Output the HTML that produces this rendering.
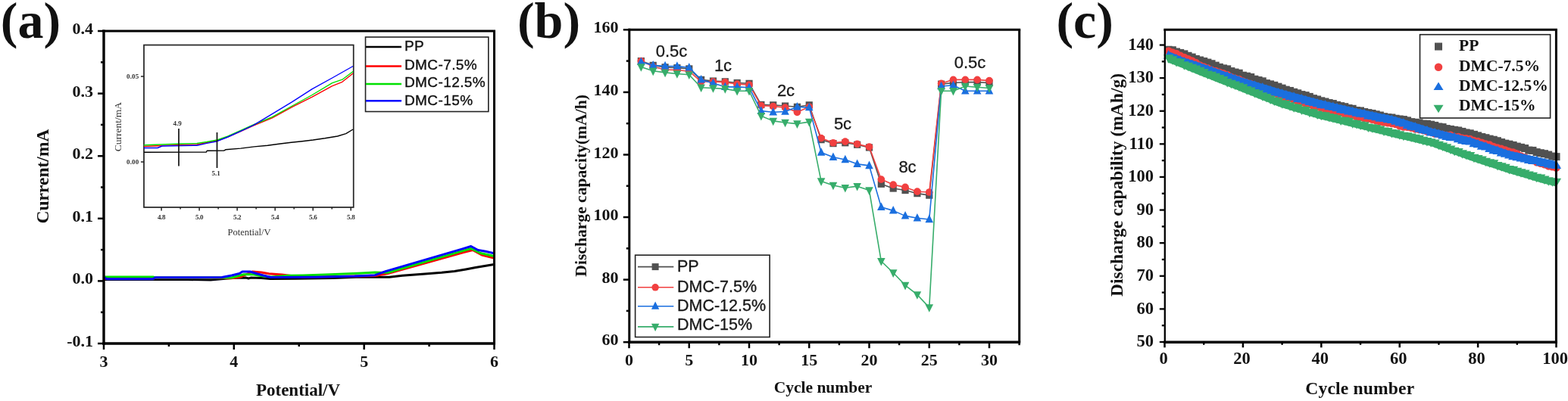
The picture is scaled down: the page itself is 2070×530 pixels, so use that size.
<!DOCTYPE html>
<html><head><meta charset="utf-8"><title>Figure</title>
<style>html,body{margin:0;padding:0;background:#fff;overflow:hidden;}svg{display:block;}</style>
</head><body>
<svg width="2070" height="530" viewBox="0 0 2070 530">
<rect width="2070" height="530" fill="#fff"/>
<text x="40.5" y="50" font-size="68" text-anchor="middle" fill="#111" style="font-family:'Liberation Serif',serif;font-weight:bold" >(a)</text>
<line x1="129" y1="454" x2="137" y2="454" stroke="#000" stroke-width="2.5" stroke-linecap="butt"/>
<text x="123" y="458" font-size="22" text-anchor="end" fill="#111" style="font-family:'Liberation Serif',serif;font-weight:bold" >-0.1</text>
<line x1="133" y1="412.7" x2="137" y2="412.7" stroke="#000" stroke-width="2.5" stroke-linecap="butt"/>
<line x1="129" y1="371.4" x2="137" y2="371.4" stroke="#000" stroke-width="2.5" stroke-linecap="butt"/>
<text x="123" y="375.4" font-size="22" text-anchor="end" fill="#111" style="font-family:'Liberation Serif',serif;font-weight:bold" >0.0</text>
<line x1="133" y1="330.1" x2="137" y2="330.1" stroke="#000" stroke-width="2.5" stroke-linecap="butt"/>
<line x1="129" y1="288.8" x2="137" y2="288.8" stroke="#000" stroke-width="2.5" stroke-linecap="butt"/>
<text x="123" y="292.8" font-size="22" text-anchor="end" fill="#111" style="font-family:'Liberation Serif',serif;font-weight:bold" >0.1</text>
<line x1="133" y1="247.5" x2="137" y2="247.5" stroke="#000" stroke-width="2.5" stroke-linecap="butt"/>
<line x1="129" y1="206.2" x2="137" y2="206.2" stroke="#000" stroke-width="2.5" stroke-linecap="butt"/>
<text x="123" y="210.2" font-size="22" text-anchor="end" fill="#111" style="font-family:'Liberation Serif',serif;font-weight:bold" >0.2</text>
<line x1="133" y1="164.9" x2="137" y2="164.9" stroke="#000" stroke-width="2.5" stroke-linecap="butt"/>
<line x1="129" y1="123.6" x2="137" y2="123.6" stroke="#000" stroke-width="2.5" stroke-linecap="butt"/>
<text x="123" y="127.6" font-size="22" text-anchor="end" fill="#111" style="font-family:'Liberation Serif',serif;font-weight:bold" >0.3</text>
<line x1="133" y1="82.3" x2="137" y2="82.3" stroke="#000" stroke-width="2.5" stroke-linecap="butt"/>
<line x1="129" y1="41" x2="137" y2="41" stroke="#000" stroke-width="2.5" stroke-linecap="butt"/>
<text x="123" y="45" font-size="22" text-anchor="end" fill="#111" style="font-family:'Liberation Serif',serif;font-weight:bold" >0.4</text>
<line x1="137" y1="454" x2="137" y2="462" stroke="#000" stroke-width="2.5" stroke-linecap="butt"/>
<text x="137" y="484.5" font-size="22" text-anchor="middle" fill="#111" style="font-family:'Liberation Serif',serif;font-weight:bold" >3</text>
<line x1="222.92" y1="454" x2="222.92" y2="458" stroke="#000" stroke-width="2.5" stroke-linecap="butt"/>
<line x1="308.83" y1="454" x2="308.83" y2="462" stroke="#000" stroke-width="2.5" stroke-linecap="butt"/>
<text x="308.83" y="484.5" font-size="22" text-anchor="middle" fill="#111" style="font-family:'Liberation Serif',serif;font-weight:bold" >4</text>
<line x1="394.75" y1="454" x2="394.75" y2="458" stroke="#000" stroke-width="2.5" stroke-linecap="butt"/>
<line x1="480.67" y1="454" x2="480.67" y2="462" stroke="#000" stroke-width="2.5" stroke-linecap="butt"/>
<text x="480.67" y="484.5" font-size="22" text-anchor="middle" fill="#111" style="font-family:'Liberation Serif',serif;font-weight:bold" >5</text>
<line x1="566.58" y1="454" x2="566.58" y2="458" stroke="#000" stroke-width="2.5" stroke-linecap="butt"/>
<line x1="652.5" y1="454" x2="652.5" y2="462" stroke="#000" stroke-width="2.5" stroke-linecap="butt"/>
<text x="652.5" y="484.5" font-size="22" text-anchor="middle" fill="#111" style="font-family:'Liberation Serif',serif;font-weight:bold" >6</text>
<text x="393.5" y="522.5" font-size="23" text-anchor="middle" fill="#111" style="font-family:'Liberation Serif',serif;font-weight:bold" >Potential/V</text>
<text x="0" y="0" font-size="23.5" text-anchor="middle" fill="#111" style="font-family:'Liberation Serif',serif;font-weight:bold" transform="translate(63.8,233) rotate(-90)">Current/mA</text>
<polyline points="137,369.5 248,369.5 278,370 306,367.5 325,367.1 328,368 331,367.1 345,367.5 357,368.4 390,368.3 440,367.5 470,366.3 514,366.2 531,364.2 561,362 583,360.3 600,358.6 615,356 628,353.5 643,351 652,349.5" fill="none" stroke="#000" stroke-width="3" stroke-linejoin="round" />
<polyline points="137,368.5 202,368.5 205,367.2 295,367.2 300,367.8 306,367.8 318,366 333,359 345,360 355,361.8 372,363 400,366.5 495,364.5 512,361.5 612,333.5 624,330.5 636,337 652,341" fill="none" stroke="#FF0000" stroke-width="3" stroke-linejoin="round" />
<polyline points="137,366 202,366 205,367 306,367 315,364.5 322,362.8 335,362.8 342,364.2 358,366 380,364.3 400,364 436,362.8 478,361 495,360 503,360.3 512,360.2 610.7,331.6 622,328.5 634,334.5 652,338.5" fill="none" stroke="#00E000" stroke-width="3" stroke-linejoin="round" />
<polyline points="137,366.8 141,368.7 202,368.7 205,366.8 293,366.5 306,364 316,361.5 320,359 330,359 340,362 357,366.5 417,366.2 468,365 495,363.7 509,358.6 610.7,328.9 621.8,325.5 631,330.5 641,332.3 652,334.8" fill="none" stroke="#0000FF" stroke-width="3" stroke-linejoin="round" />
<line x1="135.3" y1="41" x2="654" y2="41" stroke="#000" stroke-width="3" stroke-linecap="butt"/>
<line x1="135.3" y1="454" x2="654" y2="454" stroke="#000" stroke-width="3.6" stroke-linecap="butt"/>
<line x1="652.5" y1="41" x2="652.5" y2="454" stroke="#000" stroke-width="3" stroke-linecap="butt"/>
<line x1="137" y1="39.5" x2="137" y2="455.8" stroke="#000" stroke-width="3.4" stroke-linecap="butt"/>
<rect x="482.5" y="49" width="162.3" height="98.5" fill="#fff" stroke="#222" stroke-width="1.6"/>
<line x1="483" y1="62" x2="530" y2="62" stroke="#000" stroke-width="2.6" stroke-linecap="butt"/>
<text x="534" y="67.1" font-size="19" text-anchor="start" fill="#111" style="font-family:'Liberation Sans',sans-serif" letter-spacing="0.4" stroke="#111" stroke-width="0.35">PP</text>
<line x1="483" y1="87.5" x2="530" y2="87.5" stroke="#FF0000" stroke-width="2.6" stroke-linecap="butt"/>
<text x="534" y="92" font-size="19" text-anchor="start" fill="#111" style="font-family:'Liberation Sans',sans-serif" letter-spacing="0.4" stroke="#111" stroke-width="0.35">DMC-7.5%</text>
<line x1="483" y1="111" x2="530" y2="111" stroke="#00E000" stroke-width="2.6" stroke-linecap="butt"/>
<text x="534" y="115.3" font-size="19" text-anchor="start" fill="#111" style="font-family:'Liberation Sans',sans-serif" letter-spacing="0.4" stroke="#111" stroke-width="0.35">DMC-12.5%</text>
<line x1="483" y1="133.3" x2="530" y2="133.3" stroke="#0000FF" stroke-width="2.6" stroke-linecap="butt"/>
<text x="534" y="139.1" font-size="19" text-anchor="start" fill="#111" style="font-family:'Liberation Sans',sans-serif" letter-spacing="0.4" stroke="#111" stroke-width="0.35">DMC-15%</text>
<rect x="190" y="59.5" width="276.7" height="214.5" fill="#fff" stroke="#222" stroke-width="1.7"/>
<line x1="213.1" y1="274" x2="213.1" y2="278.5" stroke="#222" stroke-width="1.5" stroke-linecap="butt"/>
<text x="213.1" y="289.5" font-size="9" text-anchor="middle" fill="#333" style="font-family:'Liberation Serif',serif;font-weight:bold" letter-spacing="-0.3">4.8</text>
<line x1="238.11" y1="274" x2="238.11" y2="276.5" stroke="#222" stroke-width="1.5" stroke-linecap="butt"/>
<line x1="263.12" y1="274" x2="263.12" y2="278.5" stroke="#222" stroke-width="1.5" stroke-linecap="butt"/>
<text x="263.12" y="289.5" font-size="9" text-anchor="middle" fill="#333" style="font-family:'Liberation Serif',serif;font-weight:bold" letter-spacing="-0.3">5.0</text>
<line x1="288.13" y1="274" x2="288.13" y2="276.5" stroke="#222" stroke-width="1.5" stroke-linecap="butt"/>
<line x1="313.14" y1="274" x2="313.14" y2="278.5" stroke="#222" stroke-width="1.5" stroke-linecap="butt"/>
<text x="313.14" y="289.5" font-size="9" text-anchor="middle" fill="#333" style="font-family:'Liberation Serif',serif;font-weight:bold" letter-spacing="-0.3">5.2</text>
<line x1="338.15" y1="274" x2="338.15" y2="276.5" stroke="#222" stroke-width="1.5" stroke-linecap="butt"/>
<line x1="363.16" y1="274" x2="363.16" y2="278.5" stroke="#222" stroke-width="1.5" stroke-linecap="butt"/>
<text x="363.16" y="289.5" font-size="9" text-anchor="middle" fill="#333" style="font-family:'Liberation Serif',serif;font-weight:bold" letter-spacing="-0.3">5.4</text>
<line x1="388.17" y1="274" x2="388.17" y2="276.5" stroke="#222" stroke-width="1.5" stroke-linecap="butt"/>
<line x1="413.18" y1="274" x2="413.18" y2="278.5" stroke="#222" stroke-width="1.5" stroke-linecap="butt"/>
<text x="413.18" y="289.5" font-size="9" text-anchor="middle" fill="#333" style="font-family:'Liberation Serif',serif;font-weight:bold" letter-spacing="-0.3">5.6</text>
<line x1="438.19" y1="274" x2="438.19" y2="276.5" stroke="#222" stroke-width="1.5" stroke-linecap="butt"/>
<line x1="463.2" y1="274" x2="463.2" y2="278.5" stroke="#222" stroke-width="1.5" stroke-linecap="butt"/>
<text x="463.2" y="289.5" font-size="9" text-anchor="middle" fill="#333" style="font-family:'Liberation Serif',serif;font-weight:bold" letter-spacing="-0.3">5.8</text>
<line x1="186" y1="214" x2="190" y2="214" stroke="#222" stroke-width="1.5" stroke-linecap="butt"/>
<text x="183.5" y="217" font-size="9" text-anchor="end" fill="#333" style="font-family:'Liberation Serif',serif;font-weight:bold" letter-spacing="0.2">0.00</text>
<line x1="186" y1="101" x2="190" y2="101" stroke="#222" stroke-width="1.5" stroke-linecap="butt"/>
<text x="183.5" y="104" font-size="9" text-anchor="end" fill="#333" style="font-family:'Liberation Serif',serif;font-weight:bold" letter-spacing="0.2">0.05</text>
<text x="329" y="311.3" font-size="12.5" text-anchor="middle" fill="#333" style="font-family:'Liberation Serif',serif" >Potential/V</text>
<text x="0" y="0" font-size="13.5" text-anchor="middle" fill="#333" style="font-family:'Liberation Serif',serif" transform="translate(159.5,167.6) rotate(-90)">Current/mA</text>
<polyline points="190,201.3 272.2,201.1 273.3,199.3 295.6,199.1 297.8,197.8 317.8,196.1 335.6,193.9 353.3,192.2 370,190 384.4,188.3 398.9,186.7 413.3,185 428.9,182.8 445.6,180 456.7,176.7 466,171" fill="none" stroke="#000" stroke-width="1.4" stroke-linejoin="round" />
<polyline points="190,193.5 240,191.5 260,191 273,188.5 286.7,186 301,180.8 317.8,173.5 334.4,166 359.3,155.9 385.7,141.4 412.1,128.1 438.6,113.6 451.8,108.3 466,97" fill="none" stroke="#FF0000" stroke-width="1.4" stroke-linejoin="round" />
<polyline points="190,191.8 240,190 260,189.5 273,187.5 286.7,185 301,180 317.8,172.5 334.4,165 359.3,154.6 385.7,140 412.1,125.5 438.6,109.6 451.8,105.2 466,94.5" fill="none" stroke="#00E000" stroke-width="1.4" stroke-linejoin="round" />
<polyline points="190,195.5 208,195.5 214,193 260,192.2 273,189.4 286.7,186.7 301,181 317.8,173.3 334.4,165.6 359.3,150.6 385.7,134.7 412.1,117.6 438.6,103 466,87.5" fill="none" stroke="#0000FF" stroke-width="1.4" stroke-linejoin="round" />
<line x1="236" y1="170" x2="236" y2="219.5" stroke="#111" stroke-width="1.7" stroke-linecap="butt"/>
<line x1="286.5" y1="175" x2="286.5" y2="222" stroke="#111" stroke-width="1.7" stroke-linecap="butt"/>
<text x="234" y="165.5" font-size="9" text-anchor="middle" fill="#333" style="font-family:'Liberation Serif',serif;font-weight:bold" >4.9</text>
<text x="285" y="232" font-size="9" text-anchor="middle" fill="#333" style="font-family:'Liberation Serif',serif;font-weight:bold" >5.1</text>
<text x="724.5" y="50" font-size="68" text-anchor="middle" fill="#111" style="font-family:'Liberation Serif',serif;font-weight:bold" >(b)</text>
<line x1="822.8" y1="452.2" x2="830.8" y2="452.2" stroke="#000" stroke-width="2.5" stroke-linecap="butt"/>
<text x="816.5" y="456.3" font-size="22" text-anchor="end" fill="#111" style="font-family:'Liberation Serif',serif;font-weight:bold" >60</text>
<line x1="826.8" y1="410.91" x2="830.8" y2="410.91" stroke="#000" stroke-width="2.5" stroke-linecap="butt"/>
<line x1="822.8" y1="369.62" x2="830.8" y2="369.62" stroke="#000" stroke-width="2.5" stroke-linecap="butt"/>
<text x="816.5" y="373.72" font-size="22" text-anchor="end" fill="#111" style="font-family:'Liberation Serif',serif;font-weight:bold" >80</text>
<line x1="826.8" y1="328.33" x2="830.8" y2="328.33" stroke="#000" stroke-width="2.5" stroke-linecap="butt"/>
<line x1="822.8" y1="287.04" x2="830.8" y2="287.04" stroke="#000" stroke-width="2.5" stroke-linecap="butt"/>
<text x="816.5" y="291.14" font-size="22" text-anchor="end" fill="#111" style="font-family:'Liberation Serif',serif;font-weight:bold" >100</text>
<line x1="826.8" y1="245.75" x2="830.8" y2="245.75" stroke="#000" stroke-width="2.5" stroke-linecap="butt"/>
<line x1="822.8" y1="204.46" x2="830.8" y2="204.46" stroke="#000" stroke-width="2.5" stroke-linecap="butt"/>
<text x="816.5" y="208.56" font-size="22" text-anchor="end" fill="#111" style="font-family:'Liberation Serif',serif;font-weight:bold" >120</text>
<line x1="826.8" y1="163.17" x2="830.8" y2="163.17" stroke="#000" stroke-width="2.5" stroke-linecap="butt"/>
<line x1="822.8" y1="121.88" x2="830.8" y2="121.88" stroke="#000" stroke-width="2.5" stroke-linecap="butt"/>
<text x="816.5" y="125.98" font-size="22" text-anchor="end" fill="#111" style="font-family:'Liberation Serif',serif;font-weight:bold" >140</text>
<line x1="826.8" y1="80.59" x2="830.8" y2="80.59" stroke="#000" stroke-width="2.5" stroke-linecap="butt"/>
<line x1="822.8" y1="39.3" x2="830.8" y2="39.3" stroke="#000" stroke-width="2.5" stroke-linecap="butt"/>
<text x="816.5" y="43.4" font-size="22" text-anchor="end" fill="#111" style="font-family:'Liberation Serif',serif;font-weight:bold" >160</text>
<line x1="830.5" y1="452.2" x2="830.5" y2="460.2" stroke="#000" stroke-width="2.5" stroke-linecap="butt"/>
<text x="830.5" y="482.5" font-size="22" text-anchor="middle" fill="#111" style="font-family:'Liberation Serif',serif;font-weight:bold" >0</text>
<line x1="870.12" y1="452.2" x2="870.12" y2="456.2" stroke="#000" stroke-width="2.5" stroke-linecap="butt"/>
<line x1="909.75" y1="452.2" x2="909.75" y2="460.2" stroke="#000" stroke-width="2.5" stroke-linecap="butt"/>
<text x="909.75" y="482.5" font-size="22" text-anchor="middle" fill="#111" style="font-family:'Liberation Serif',serif;font-weight:bold" >5</text>
<line x1="949.38" y1="452.2" x2="949.38" y2="456.2" stroke="#000" stroke-width="2.5" stroke-linecap="butt"/>
<line x1="989" y1="452.2" x2="989" y2="460.2" stroke="#000" stroke-width="2.5" stroke-linecap="butt"/>
<text x="989" y="482.5" font-size="22" text-anchor="middle" fill="#111" style="font-family:'Liberation Serif',serif;font-weight:bold" >10</text>
<line x1="1028.62" y1="452.2" x2="1028.62" y2="456.2" stroke="#000" stroke-width="2.5" stroke-linecap="butt"/>
<line x1="1068.25" y1="452.2" x2="1068.25" y2="460.2" stroke="#000" stroke-width="2.5" stroke-linecap="butt"/>
<text x="1068.25" y="482.5" font-size="22" text-anchor="middle" fill="#111" style="font-family:'Liberation Serif',serif;font-weight:bold" >15</text>
<line x1="1107.88" y1="452.2" x2="1107.88" y2="456.2" stroke="#000" stroke-width="2.5" stroke-linecap="butt"/>
<line x1="1147.5" y1="452.2" x2="1147.5" y2="460.2" stroke="#000" stroke-width="2.5" stroke-linecap="butt"/>
<text x="1147.5" y="482.5" font-size="22" text-anchor="middle" fill="#111" style="font-family:'Liberation Serif',serif;font-weight:bold" >20</text>
<line x1="1187.12" y1="452.2" x2="1187.12" y2="456.2" stroke="#000" stroke-width="2.5" stroke-linecap="butt"/>
<line x1="1226.75" y1="452.2" x2="1226.75" y2="460.2" stroke="#000" stroke-width="2.5" stroke-linecap="butt"/>
<text x="1226.75" y="482.5" font-size="22" text-anchor="middle" fill="#111" style="font-family:'Liberation Serif',serif;font-weight:bold" >25</text>
<line x1="1266.38" y1="452.2" x2="1266.38" y2="456.2" stroke="#000" stroke-width="2.5" stroke-linecap="butt"/>
<line x1="1306" y1="452.2" x2="1306" y2="460.2" stroke="#000" stroke-width="2.5" stroke-linecap="butt"/>
<text x="1306" y="482.5" font-size="22" text-anchor="middle" fill="#111" style="font-family:'Liberation Serif',serif;font-weight:bold" >30</text>
<line x1="1345.62" y1="452.2" x2="1345.62" y2="456.2" stroke="#000" stroke-width="2.5" stroke-linecap="butt"/>
<text x="1086.5" y="518.5" font-size="21.5" text-anchor="middle" fill="#111" style="font-family:'Liberation Serif',serif;font-weight:bold" >Cycle number</text>
<text x="0" y="0" font-size="21.6" text-anchor="middle" fill="#111" style="font-family:'Liberation Serif',serif;font-weight:bold" transform="translate(774.3,245.4) rotate(-90)">Discharge capacity(mA/h)</text>
<polyline points="846.35,80.59 862.2,86.37 878.05,88.85 893.9,89.67 909.75,90.91 925.6,105.36 941.45,107.02 957.3,107.84 973.15,109.49 989,110.32 1004.85,138.4 1020.7,138.81 1036.55,140.05 1052.4,141.29 1068.25,138.81 1084.1,184.64 1099.95,189.6 1115.8,188.77 1131.65,191.25 1147.5,194.96 1163.35,243.27 1179.2,249.05 1195.05,251.53 1210.9,255.66 1226.75,258.14 1242.6,111.14 1258.45,109.49 1274.3,108.67 1290.15,108.67 1306,109.49" fill="none" stroke="#515151" stroke-width="1.6" stroke-linejoin="round" />
<rect x="841.75" y="75.99" width="9.2" height="9.2" fill="#515151"/>
<rect x="857.6" y="81.77" width="9.2" height="9.2" fill="#515151"/>
<rect x="873.45" y="84.25" width="9.2" height="9.2" fill="#515151"/>
<rect x="889.3" y="85.07" width="9.2" height="9.2" fill="#515151"/>
<rect x="905.15" y="86.31" width="9.2" height="9.2" fill="#515151"/>
<rect x="921" y="100.76" width="9.2" height="9.2" fill="#515151"/>
<rect x="936.85" y="102.42" width="9.2" height="9.2" fill="#515151"/>
<rect x="952.7" y="103.24" width="9.2" height="9.2" fill="#515151"/>
<rect x="968.55" y="104.89" width="9.2" height="9.2" fill="#515151"/>
<rect x="984.4" y="105.72" width="9.2" height="9.2" fill="#515151"/>
<rect x="1000.25" y="133.8" width="9.2" height="9.2" fill="#515151"/>
<rect x="1016.1" y="134.21" width="9.2" height="9.2" fill="#515151"/>
<rect x="1031.95" y="135.45" width="9.2" height="9.2" fill="#515151"/>
<rect x="1047.8" y="136.69" width="9.2" height="9.2" fill="#515151"/>
<rect x="1063.65" y="134.21" width="9.2" height="9.2" fill="#515151"/>
<rect x="1079.5" y="180.04" width="9.2" height="9.2" fill="#515151"/>
<rect x="1095.35" y="185" width="9.2" height="9.2" fill="#515151"/>
<rect x="1111.2" y="184.17" width="9.2" height="9.2" fill="#515151"/>
<rect x="1127.05" y="186.65" width="9.2" height="9.2" fill="#515151"/>
<rect x="1142.9" y="190.36" width="9.2" height="9.2" fill="#515151"/>
<rect x="1158.75" y="238.67" width="9.2" height="9.2" fill="#515151"/>
<rect x="1174.6" y="244.45" width="9.2" height="9.2" fill="#515151"/>
<rect x="1190.45" y="246.93" width="9.2" height="9.2" fill="#515151"/>
<rect x="1206.3" y="251.06" width="9.2" height="9.2" fill="#515151"/>
<rect x="1222.15" y="253.54" width="9.2" height="9.2" fill="#515151"/>
<rect x="1238" y="106.54" width="9.2" height="9.2" fill="#515151"/>
<rect x="1253.85" y="104.89" width="9.2" height="9.2" fill="#515151"/>
<rect x="1269.7" y="104.07" width="9.2" height="9.2" fill="#515151"/>
<rect x="1285.55" y="104.07" width="9.2" height="9.2" fill="#515151"/>
<rect x="1301.4" y="104.89" width="9.2" height="9.2" fill="#515151"/>
<polyline points="846.35,80.59 862.2,88.02 878.05,92.15 893.9,92.56 909.75,94.22 925.6,107.84 941.45,107.84 957.3,108.67 973.15,111.14 989,111.97 1004.85,139.63 1020.7,140.46 1036.55,142.11 1052.4,148.31 1068.25,141.29 1084.1,182.58 1099.95,188.77 1115.8,187.12 1131.65,190.42 1147.5,194.14 1163.35,237.08 1179.2,244.1 1195.05,247.4 1210.9,253.18 1226.75,254.01 1242.6,110.32 1258.45,105.36 1274.3,105.36 1290.15,105.36 1306,106.6" fill="none" stroke="#F14040" stroke-width="1.6" stroke-linejoin="round" />
<circle cx="846.35" cy="80.59" r="4.83" fill="#F14040"/>
<circle cx="862.2" cy="88.02" r="4.83" fill="#F14040"/>
<circle cx="878.05" cy="92.15" r="4.83" fill="#F14040"/>
<circle cx="893.9" cy="92.56" r="4.83" fill="#F14040"/>
<circle cx="909.75" cy="94.22" r="4.83" fill="#F14040"/>
<circle cx="925.6" cy="107.84" r="4.83" fill="#F14040"/>
<circle cx="941.45" cy="107.84" r="4.83" fill="#F14040"/>
<circle cx="957.3" cy="108.67" r="4.83" fill="#F14040"/>
<circle cx="973.15" cy="111.14" r="4.83" fill="#F14040"/>
<circle cx="989" cy="111.97" r="4.83" fill="#F14040"/>
<circle cx="1004.85" cy="139.63" r="4.83" fill="#F14040"/>
<circle cx="1020.7" cy="140.46" r="4.83" fill="#F14040"/>
<circle cx="1036.55" cy="142.11" r="4.83" fill="#F14040"/>
<circle cx="1052.4" cy="148.31" r="4.83" fill="#F14040"/>
<circle cx="1068.25" cy="141.29" r="4.83" fill="#F14040"/>
<circle cx="1084.1" cy="182.58" r="4.83" fill="#F14040"/>
<circle cx="1099.95" cy="188.77" r="4.83" fill="#F14040"/>
<circle cx="1115.8" cy="187.12" r="4.83" fill="#F14040"/>
<circle cx="1131.65" cy="190.42" r="4.83" fill="#F14040"/>
<circle cx="1147.5" cy="194.14" r="4.83" fill="#F14040"/>
<circle cx="1163.35" cy="237.08" r="4.83" fill="#F14040"/>
<circle cx="1179.2" cy="244.1" r="4.83" fill="#F14040"/>
<circle cx="1195.05" cy="247.4" r="4.83" fill="#F14040"/>
<circle cx="1210.9" cy="253.18" r="4.83" fill="#F14040"/>
<circle cx="1226.75" cy="254.01" r="4.83" fill="#F14040"/>
<circle cx="1242.6" cy="110.32" r="4.83" fill="#F14040"/>
<circle cx="1258.45" cy="105.36" r="4.83" fill="#F14040"/>
<circle cx="1274.3" cy="105.36" r="4.83" fill="#F14040"/>
<circle cx="1290.15" cy="105.36" r="4.83" fill="#F14040"/>
<circle cx="1306" cy="106.6" r="4.83" fill="#F14040"/>
<polyline points="846.35,81.83 862.2,86.37 878.05,87.2 893.9,87.61 909.75,89.26 925.6,105.36 941.45,109.91 957.3,114.86 973.15,114.86 989,115.69 1004.85,146.65 1020.7,148.31 1036.55,147.48 1052.4,141.29 1068.25,142.11 1084.1,201.57 1099.95,207.76 1115.8,211.07 1131.65,216.85 1147.5,218.91 1163.35,273.83 1179.2,278.37 1195.05,285.39 1210.9,288.28 1226.75,289.93 1242.6,114.03 1258.45,112.8 1274.3,120.23 1290.15,120.23 1306,120.23" fill="none" stroke="#1A6FDF" stroke-width="1.6" stroke-linejoin="round" />
<polygon points="846.35,75.48 851.64,86.06 841.06,86.06" fill="#1A6FDF"/>
<polygon points="862.2,80.02 867.49,90.6 856.91,90.6" fill="#1A6FDF"/>
<polygon points="878.05,80.85 883.34,91.43 872.76,91.43" fill="#1A6FDF"/>
<polygon points="893.9,81.26 899.19,91.84 888.61,91.84" fill="#1A6FDF"/>
<polygon points="909.75,82.91 915.04,93.49 904.46,93.49" fill="#1A6FDF"/>
<polygon points="925.6,99.02 930.89,109.6 920.31,109.6" fill="#1A6FDF"/>
<polygon points="941.45,103.56 946.74,114.14 936.16,114.14" fill="#1A6FDF"/>
<polygon points="957.3,108.51 962.59,119.09 952.01,119.09" fill="#1A6FDF"/>
<polygon points="973.15,108.51 978.44,119.09 967.86,119.09" fill="#1A6FDF"/>
<polygon points="989,109.34 994.29,119.92 983.71,119.92" fill="#1A6FDF"/>
<polygon points="1004.85,140.31 1010.14,150.89 999.56,150.89" fill="#1A6FDF"/>
<polygon points="1020.7,141.96 1025.99,152.54 1015.41,152.54" fill="#1A6FDF"/>
<polygon points="1036.55,141.13 1041.84,151.71 1031.26,151.71" fill="#1A6FDF"/>
<polygon points="1052.4,134.94 1057.69,145.52 1047.11,145.52" fill="#1A6FDF"/>
<polygon points="1068.25,135.76 1073.54,146.34 1062.96,146.34" fill="#1A6FDF"/>
<polygon points="1084.1,195.22 1089.39,205.8 1078.81,205.8" fill="#1A6FDF"/>
<polygon points="1099.95,201.42 1105.24,212 1094.66,212" fill="#1A6FDF"/>
<polygon points="1115.8,204.72 1121.09,215.3 1110.51,215.3" fill="#1A6FDF"/>
<polygon points="1131.65,210.5 1136.94,221.08 1126.36,221.08" fill="#1A6FDF"/>
<polygon points="1147.5,212.56 1152.79,223.14 1142.21,223.14" fill="#1A6FDF"/>
<polygon points="1163.35,267.48 1168.64,278.06 1158.06,278.06" fill="#1A6FDF"/>
<polygon points="1179.2,272.02 1184.49,282.6 1173.91,282.6" fill="#1A6FDF"/>
<polygon points="1195.05,279.04 1200.34,289.62 1189.76,289.62" fill="#1A6FDF"/>
<polygon points="1210.9,281.93 1216.19,292.51 1205.61,292.51" fill="#1A6FDF"/>
<polygon points="1226.75,283.58 1232.04,294.16 1221.46,294.16" fill="#1A6FDF"/>
<polygon points="1242.6,107.69 1247.89,118.27 1237.31,118.27" fill="#1A6FDF"/>
<polygon points="1258.45,106.45 1263.74,117.03 1253.16,117.03" fill="#1A6FDF"/>
<polygon points="1274.3,113.88 1279.59,124.46 1269.01,124.46" fill="#1A6FDF"/>
<polygon points="1290.15,113.88 1295.44,124.46 1284.86,124.46" fill="#1A6FDF"/>
<polygon points="1306,113.88 1311.29,124.46 1300.71,124.46" fill="#1A6FDF"/>
<polyline points="846.35,88.44 862.2,93.8 878.05,95.87 893.9,97.52 909.75,98.76 925.6,115.69 941.45,116.51 957.3,117.34 973.15,120.23 989,120.23 1004.85,153.26 1020.7,159.87 1036.55,161.93 1052.4,163.58 1068.25,161.11 1084.1,239.56 1099.95,244.92 1115.8,248.23 1131.65,246.16 1147.5,251.53 1163.35,345.26 1179.2,360.54 1195.05,377.05 1210.9,389.44 1226.75,406.37 1242.6,120.23 1258.45,120.23 1274.3,114.03 1290.15,115.27 1306,116.51" fill="none" stroke="#37AD6B" stroke-width="1.6" stroke-linejoin="round" />
<polygon points="846.35,94.78 851.64,84.2 841.06,84.2" fill="#37AD6B"/>
<polygon points="862.2,100.15 867.49,89.57 856.91,89.57" fill="#37AD6B"/>
<polygon points="878.05,102.22 883.34,91.64 872.76,91.64" fill="#37AD6B"/>
<polygon points="893.9,103.87 899.19,93.29 888.61,93.29" fill="#37AD6B"/>
<polygon points="909.75,105.11 915.04,94.53 904.46,94.53" fill="#37AD6B"/>
<polygon points="925.6,122.03 930.89,111.45 920.31,111.45" fill="#37AD6B"/>
<polygon points="941.45,122.86 946.74,112.28 936.16,112.28" fill="#37AD6B"/>
<polygon points="957.3,123.69 962.59,113.11 952.01,113.11" fill="#37AD6B"/>
<polygon points="973.15,126.58 978.44,116 967.86,116" fill="#37AD6B"/>
<polygon points="989,126.58 994.29,116 983.71,116" fill="#37AD6B"/>
<polygon points="1004.85,159.61 1010.14,149.03 999.56,149.03" fill="#37AD6B"/>
<polygon points="1020.7,166.21 1025.99,155.63 1015.41,155.63" fill="#37AD6B"/>
<polygon points="1036.55,168.28 1041.84,157.7 1031.26,157.7" fill="#37AD6B"/>
<polygon points="1052.4,169.93 1057.69,159.35 1047.11,159.35" fill="#37AD6B"/>
<polygon points="1068.25,167.45 1073.54,156.87 1062.96,156.87" fill="#37AD6B"/>
<polygon points="1084.1,245.9 1089.39,235.32 1078.81,235.32" fill="#37AD6B"/>
<polygon points="1099.95,251.27 1105.24,240.69 1094.66,240.69" fill="#37AD6B"/>
<polygon points="1115.8,254.58 1121.09,244 1110.51,244" fill="#37AD6B"/>
<polygon points="1131.65,252.51 1136.94,241.93 1126.36,241.93" fill="#37AD6B"/>
<polygon points="1147.5,257.88 1152.79,247.3 1142.21,247.3" fill="#37AD6B"/>
<polygon points="1163.35,351.61 1168.64,341.03 1158.06,341.03" fill="#37AD6B"/>
<polygon points="1179.2,366.88 1184.49,356.3 1173.91,356.3" fill="#37AD6B"/>
<polygon points="1195.05,383.4 1200.34,372.82 1189.76,372.82" fill="#37AD6B"/>
<polygon points="1210.9,395.79 1216.19,385.21 1205.61,385.21" fill="#37AD6B"/>
<polygon points="1226.75,412.72 1232.04,402.14 1221.46,402.14" fill="#37AD6B"/>
<polygon points="1242.6,126.58 1247.89,116 1237.31,116" fill="#37AD6B"/>
<polygon points="1258.45,126.58 1263.74,116 1253.16,116" fill="#37AD6B"/>
<polygon points="1274.3,120.38 1279.59,109.8 1269.01,109.8" fill="#37AD6B"/>
<polygon points="1290.15,121.62 1295.44,111.04 1284.86,111.04" fill="#37AD6B"/>
<polygon points="1306,122.86 1311.29,112.28 1300.71,112.28" fill="#37AD6B"/>
<line x1="829.3" y1="39.3" x2="1347.2" y2="39.3" stroke="#000" stroke-width="3" stroke-linecap="butt"/>
<line x1="829.3" y1="452.2" x2="1347.2" y2="452.2" stroke="#000" stroke-width="3.6" stroke-linecap="butt"/>
<line x1="1345.7" y1="39.3" x2="1345.7" y2="452.2" stroke="#000" stroke-width="3" stroke-linecap="butt"/>
<line x1="830.8" y1="37.8" x2="830.8" y2="454" stroke="#000" stroke-width="3" stroke-linecap="butt"/>
<text x="886.5" y="75" font-size="22" text-anchor="middle" fill="#1a1a1a" style="font-family:'Liberation Sans',sans-serif" stroke="#1a1a1a" stroke-width="0.3">0.5c</text>
<text x="954.5" y="94" font-size="22" text-anchor="middle" fill="#1a1a1a" style="font-family:'Liberation Sans',sans-serif" stroke="#1a1a1a" stroke-width="0.3">1c</text>
<text x="1037.5" y="127" font-size="22" text-anchor="middle" fill="#1a1a1a" style="font-family:'Liberation Sans',sans-serif" stroke="#1a1a1a" stroke-width="0.3">2c</text>
<text x="1112.5" y="171" font-size="22" text-anchor="middle" fill="#1a1a1a" style="font-family:'Liberation Sans',sans-serif" stroke="#1a1a1a" stroke-width="0.3">5c</text>
<text x="1198" y="228" font-size="22" text-anchor="middle" fill="#1a1a1a" style="font-family:'Liberation Sans',sans-serif" stroke="#1a1a1a" stroke-width="0.3">8c</text>
<text x="1280.5" y="89.6" font-size="22" text-anchor="middle" fill="#1a1a1a" style="font-family:'Liberation Sans',sans-serif" stroke="#1a1a1a" stroke-width="0.3">0.5c</text>
<rect x="838.6" y="337.2" width="177.5" height="108.3" fill="#fff" stroke="#222" stroke-width="1.6"/>
<line x1="842" y1="352.6" x2="889.3" y2="352.6" stroke="#515151" stroke-width="1.6" stroke-linecap="butt"/>
<rect x="860.6" y="348.1" width="9" height="9" fill="#515151"/>
<text x="894" y="359.4" font-size="21.5" text-anchor="start" fill="#1a1a1a" style="font-family:'Liberation Sans',sans-serif" stroke="#1a1a1a" stroke-width="0.35">PP</text>
<line x1="842" y1="379.8" x2="889.3" y2="379.8" stroke="#F14040" stroke-width="1.6" stroke-linecap="butt"/>
<circle cx="865.1" cy="379.8" r="4.73" fill="#F14040"/>
<text x="894" y="385.5" font-size="21.5" text-anchor="start" fill="#1a1a1a" style="font-family:'Liberation Sans',sans-serif" stroke="#1a1a1a" stroke-width="0.35">DMC-7.5%</text>
<line x1="842" y1="404.7" x2="889.3" y2="404.7" stroke="#1A6FDF" stroke-width="1.6" stroke-linecap="butt"/>
<polygon points="865.1,398.49 870.27,408.84 859.93,408.84" fill="#1A6FDF"/>
<text x="894" y="411" font-size="21.5" text-anchor="start" fill="#1a1a1a" style="font-family:'Liberation Sans',sans-serif" stroke="#1a1a1a" stroke-width="0.35">DMC-12.5%</text>
<line x1="842" y1="431.9" x2="889.3" y2="431.9" stroke="#37AD6B" stroke-width="1.6" stroke-linecap="butt"/>
<polygon points="865.1,438.11 870.27,427.76 859.93,427.76" fill="#37AD6B"/>
<text x="894" y="436.4" font-size="21.5" text-anchor="start" fill="#1a1a1a" style="font-family:'Liberation Sans',sans-serif" stroke="#1a1a1a" stroke-width="0.35">DMC-15%</text>
<text x="1432.2" y="50" font-size="68" text-anchor="middle" fill="#111" style="font-family:'Liberation Serif',serif;font-weight:bold" >(c)</text>
<line x1="1530.8" y1="452" x2="1537.8" y2="452" stroke="#000" stroke-width="2.3" stroke-linecap="butt"/>
<text x="1523" y="458.3" font-size="22.5" text-anchor="end" fill="#111" style="font-family:'Liberation Serif',serif;font-weight:bold" >50</text>
<line x1="1533.8" y1="430.19" x2="1537.8" y2="430.19" stroke="#000" stroke-width="2.3" stroke-linecap="butt"/>
<line x1="1530.8" y1="408.39" x2="1537.8" y2="408.39" stroke="#000" stroke-width="2.3" stroke-linecap="butt"/>
<text x="1523" y="414.69" font-size="22.5" text-anchor="end" fill="#111" style="font-family:'Liberation Serif',serif;font-weight:bold" >60</text>
<line x1="1533.8" y1="386.59" x2="1537.8" y2="386.59" stroke="#000" stroke-width="2.3" stroke-linecap="butt"/>
<line x1="1530.8" y1="364.78" x2="1537.8" y2="364.78" stroke="#000" stroke-width="2.3" stroke-linecap="butt"/>
<text x="1523" y="371.08" font-size="22.5" text-anchor="end" fill="#111" style="font-family:'Liberation Serif',serif;font-weight:bold" >70</text>
<line x1="1533.8" y1="342.98" x2="1537.8" y2="342.98" stroke="#000" stroke-width="2.3" stroke-linecap="butt"/>
<line x1="1530.8" y1="321.17" x2="1537.8" y2="321.17" stroke="#000" stroke-width="2.3" stroke-linecap="butt"/>
<text x="1523" y="327.47" font-size="22.5" text-anchor="end" fill="#111" style="font-family:'Liberation Serif',serif;font-weight:bold" >80</text>
<line x1="1533.8" y1="299.37" x2="1537.8" y2="299.37" stroke="#000" stroke-width="2.3" stroke-linecap="butt"/>
<line x1="1530.8" y1="277.56" x2="1537.8" y2="277.56" stroke="#000" stroke-width="2.3" stroke-linecap="butt"/>
<text x="1523" y="283.86" font-size="22.5" text-anchor="end" fill="#111" style="font-family:'Liberation Serif',serif;font-weight:bold" >90</text>
<line x1="1533.8" y1="255.76" x2="1537.8" y2="255.76" stroke="#000" stroke-width="2.3" stroke-linecap="butt"/>
<line x1="1530.8" y1="233.95" x2="1537.8" y2="233.95" stroke="#000" stroke-width="2.3" stroke-linecap="butt"/>
<text x="1523" y="240.25" font-size="22.5" text-anchor="end" fill="#111" style="font-family:'Liberation Serif',serif;font-weight:bold" >100</text>
<line x1="1533.8" y1="212.15" x2="1537.8" y2="212.15" stroke="#000" stroke-width="2.3" stroke-linecap="butt"/>
<line x1="1530.8" y1="190.34" x2="1537.8" y2="190.34" stroke="#000" stroke-width="2.3" stroke-linecap="butt"/>
<text x="1523" y="196.64" font-size="22.5" text-anchor="end" fill="#111" style="font-family:'Liberation Serif',serif;font-weight:bold" >110</text>
<line x1="1533.8" y1="168.54" x2="1537.8" y2="168.54" stroke="#000" stroke-width="2.3" stroke-linecap="butt"/>
<line x1="1530.8" y1="146.73" x2="1537.8" y2="146.73" stroke="#000" stroke-width="2.3" stroke-linecap="butt"/>
<text x="1523" y="153.03" font-size="22.5" text-anchor="end" fill="#111" style="font-family:'Liberation Serif',serif;font-weight:bold" >120</text>
<line x1="1533.8" y1="124.93" x2="1537.8" y2="124.93" stroke="#000" stroke-width="2.3" stroke-linecap="butt"/>
<line x1="1530.8" y1="103.12" x2="1537.8" y2="103.12" stroke="#000" stroke-width="2.3" stroke-linecap="butt"/>
<text x="1523" y="109.42" font-size="22.5" text-anchor="end" fill="#111" style="font-family:'Liberation Serif',serif;font-weight:bold" >130</text>
<line x1="1533.8" y1="81.31" x2="1537.8" y2="81.31" stroke="#000" stroke-width="2.3" stroke-linecap="butt"/>
<line x1="1530.8" y1="59.51" x2="1537.8" y2="59.51" stroke="#000" stroke-width="2.3" stroke-linecap="butt"/>
<text x="1523" y="65.81" font-size="22.5" text-anchor="end" fill="#111" style="font-family:'Liberation Serif',serif;font-weight:bold" >140</text>
<line x1="1537.5" y1="452.3" x2="1537.5" y2="459.3" stroke="#000" stroke-width="2.5" stroke-linecap="butt"/>
<text x="1536" y="481" font-size="22.5" text-anchor="middle" fill="#111" style="font-family:'Liberation Serif',serif;font-weight:bold" >0</text>
<line x1="1589.2" y1="452.3" x2="1589.2" y2="455.8" stroke="#000" stroke-width="2.5" stroke-linecap="butt"/>
<line x1="1640.9" y1="452.3" x2="1640.9" y2="459.3" stroke="#000" stroke-width="2.5" stroke-linecap="butt"/>
<text x="1639.4" y="481" font-size="22.5" text-anchor="middle" fill="#111" style="font-family:'Liberation Serif',serif;font-weight:bold" >20</text>
<line x1="1692.6" y1="452.3" x2="1692.6" y2="455.8" stroke="#000" stroke-width="2.5" stroke-linecap="butt"/>
<line x1="1744.3" y1="452.3" x2="1744.3" y2="459.3" stroke="#000" stroke-width="2.5" stroke-linecap="butt"/>
<text x="1742.8" y="481" font-size="22.5" text-anchor="middle" fill="#111" style="font-family:'Liberation Serif',serif;font-weight:bold" >40</text>
<line x1="1796" y1="452.3" x2="1796" y2="455.8" stroke="#000" stroke-width="2.5" stroke-linecap="butt"/>
<line x1="1847.7" y1="452.3" x2="1847.7" y2="459.3" stroke="#000" stroke-width="2.5" stroke-linecap="butt"/>
<text x="1846.2" y="481" font-size="22.5" text-anchor="middle" fill="#111" style="font-family:'Liberation Serif',serif;font-weight:bold" >60</text>
<line x1="1899.4" y1="452.3" x2="1899.4" y2="455.8" stroke="#000" stroke-width="2.5" stroke-linecap="butt"/>
<line x1="1951.1" y1="452.3" x2="1951.1" y2="459.3" stroke="#000" stroke-width="2.5" stroke-linecap="butt"/>
<text x="1949.6" y="481" font-size="22.5" text-anchor="middle" fill="#111" style="font-family:'Liberation Serif',serif;font-weight:bold" >80</text>
<line x1="2002.8" y1="452.3" x2="2002.8" y2="455.8" stroke="#000" stroke-width="2.5" stroke-linecap="butt"/>
<line x1="2054.5" y1="452.3" x2="2054.5" y2="459.3" stroke="#000" stroke-width="2.5" stroke-linecap="butt"/>
<text x="2053" y="481" font-size="22.5" text-anchor="middle" fill="#111" style="font-family:'Liberation Serif',serif;font-weight:bold" >100</text>
<text x="1795.3" y="520.9" font-size="23.5" text-anchor="middle" fill="#111" style="font-family:'Liberation Serif',serif;font-weight:bold" letter-spacing="0.2">Cycle number</text>
<text x="0" y="0" font-size="23.5" text-anchor="middle" fill="#111" style="font-family:'Liberation Serif',serif;font-weight:bold" transform="translate(1481.5,244.5) rotate(-90)">Discharge capability (mAh/g)</text>
<rect x="1537.67" y="60.73" width="10" height="10" fill="#515151"/>
<rect x="1542.84" y="61.23" width="10" height="10" fill="#515151"/>
<rect x="1548.01" y="63.47" width="10" height="10" fill="#515151"/>
<rect x="1553.18" y="64.9" width="10" height="10" fill="#515151"/>
<rect x="1558.35" y="66.37" width="10" height="10" fill="#515151"/>
<rect x="1563.52" y="68.76" width="10" height="10" fill="#515151"/>
<rect x="1568.69" y="70.62" width="10" height="10" fill="#515151"/>
<rect x="1573.86" y="72.99" width="10" height="10" fill="#515151"/>
<rect x="1579.03" y="74.54" width="10" height="10" fill="#515151"/>
<rect x="1584.2" y="76.04" width="10" height="10" fill="#515151"/>
<rect x="1589.37" y="77.62" width="10" height="10" fill="#515151"/>
<rect x="1594.54" y="79.26" width="10" height="10" fill="#515151"/>
<rect x="1599.71" y="81.62" width="10" height="10" fill="#515151"/>
<rect x="1604.88" y="83.84" width="10" height="10" fill="#515151"/>
<rect x="1610.05" y="85.36" width="10" height="10" fill="#515151"/>
<rect x="1615.22" y="86.35" width="10" height="10" fill="#515151"/>
<rect x="1620.39" y="89.07" width="10" height="10" fill="#515151"/>
<rect x="1625.56" y="90.57" width="10" height="10" fill="#515151"/>
<rect x="1630.73" y="91.75" width="10" height="10" fill="#515151"/>
<rect x="1635.9" y="94.73" width="10" height="10" fill="#515151"/>
<rect x="1641.07" y="95.73" width="10" height="10" fill="#515151"/>
<rect x="1646.24" y="97.03" width="10" height="10" fill="#515151"/>
<rect x="1651.41" y="99.72" width="10" height="10" fill="#515151"/>
<rect x="1656.58" y="101.06" width="10" height="10" fill="#515151"/>
<rect x="1661.75" y="102.34" width="10" height="10" fill="#515151"/>
<rect x="1666.92" y="105.11" width="10" height="10" fill="#515151"/>
<rect x="1672.09" y="106.35" width="10" height="10" fill="#515151"/>
<rect x="1677.26" y="107.81" width="10" height="10" fill="#515151"/>
<rect x="1682.43" y="109.67" width="10" height="10" fill="#515151"/>
<rect x="1687.6" y="111.64" width="10" height="10" fill="#515151"/>
<rect x="1692.77" y="113.65" width="10" height="10" fill="#515151"/>
<rect x="1697.94" y="114.94" width="10" height="10" fill="#515151"/>
<rect x="1703.11" y="116.76" width="10" height="10" fill="#515151"/>
<rect x="1708.28" y="118.28" width="10" height="10" fill="#515151"/>
<rect x="1713.45" y="120.09" width="10" height="10" fill="#515151"/>
<rect x="1718.62" y="121.14" width="10" height="10" fill="#515151"/>
<rect x="1723.79" y="122.89" width="10" height="10" fill="#515151"/>
<rect x="1728.96" y="125.15" width="10" height="10" fill="#515151"/>
<rect x="1734.13" y="126.47" width="10" height="10" fill="#515151"/>
<rect x="1739.3" y="128.32" width="10" height="10" fill="#515151"/>
<rect x="1744.47" y="129.5" width="10" height="10" fill="#515151"/>
<rect x="1749.64" y="131.04" width="10" height="10" fill="#515151"/>
<rect x="1754.81" y="132.05" width="10" height="10" fill="#515151"/>
<rect x="1759.98" y="133.83" width="10" height="10" fill="#515151"/>
<rect x="1765.15" y="135.12" width="10" height="10" fill="#515151"/>
<rect x="1770.32" y="136.19" width="10" height="10" fill="#515151"/>
<rect x="1775.49" y="138" width="10" height="10" fill="#515151"/>
<rect x="1780.66" y="138.76" width="10" height="10" fill="#515151"/>
<rect x="1785.83" y="141.06" width="10" height="10" fill="#515151"/>
<rect x="1791" y="141.46" width="10" height="10" fill="#515151"/>
<rect x="1796.17" y="143" width="10" height="10" fill="#515151"/>
<rect x="1801.34" y="144.11" width="10" height="10" fill="#515151"/>
<rect x="1806.51" y="144.97" width="10" height="10" fill="#515151"/>
<rect x="1811.68" y="146.24" width="10" height="10" fill="#515151"/>
<rect x="1816.85" y="147.5" width="10" height="10" fill="#515151"/>
<rect x="1822.02" y="149.17" width="10" height="10" fill="#515151"/>
<rect x="1827.19" y="150.17" width="10" height="10" fill="#515151"/>
<rect x="1832.36" y="150.49" width="10" height="10" fill="#515151"/>
<rect x="1837.53" y="151.76" width="10" height="10" fill="#515151"/>
<rect x="1842.7" y="152.48" width="10" height="10" fill="#515151"/>
<rect x="1847.87" y="153.09" width="10" height="10" fill="#515151"/>
<rect x="1853.04" y="154.39" width="10" height="10" fill="#515151"/>
<rect x="1858.21" y="156.16" width="10" height="10" fill="#515151"/>
<rect x="1863.38" y="156.77" width="10" height="10" fill="#515151"/>
<rect x="1868.55" y="157.34" width="10" height="10" fill="#515151"/>
<rect x="1873.72" y="158.75" width="10" height="10" fill="#515151"/>
<rect x="1878.89" y="158.74" width="10" height="10" fill="#515151"/>
<rect x="1884.06" y="159.71" width="10" height="10" fill="#515151"/>
<rect x="1889.23" y="160.89" width="10" height="10" fill="#515151"/>
<rect x="1894.4" y="162.46" width="10" height="10" fill="#515151"/>
<rect x="1899.57" y="163.06" width="10" height="10" fill="#515151"/>
<rect x="1904.74" y="165.07" width="10" height="10" fill="#515151"/>
<rect x="1909.91" y="165.91" width="10" height="10" fill="#515151"/>
<rect x="1915.08" y="166.79" width="10" height="10" fill="#515151"/>
<rect x="1920.25" y="167.5" width="10" height="10" fill="#515151"/>
<rect x="1925.42" y="168.92" width="10" height="10" fill="#515151"/>
<rect x="1930.59" y="170.45" width="10" height="10" fill="#515151"/>
<rect x="1935.76" y="171.3" width="10" height="10" fill="#515151"/>
<rect x="1940.93" y="172.83" width="10" height="10" fill="#515151"/>
<rect x="1946.1" y="174.36" width="10" height="10" fill="#515151"/>
<rect x="1951.27" y="176.03" width="10" height="10" fill="#515151"/>
<rect x="1956.44" y="177.21" width="10" height="10" fill="#515151"/>
<rect x="1961.61" y="178.66" width="10" height="10" fill="#515151"/>
<rect x="1966.78" y="179.73" width="10" height="10" fill="#515151"/>
<rect x="1971.95" y="181.2" width="10" height="10" fill="#515151"/>
<rect x="1977.12" y="183.06" width="10" height="10" fill="#515151"/>
<rect x="1982.29" y="184.64" width="10" height="10" fill="#515151"/>
<rect x="1987.46" y="185.67" width="10" height="10" fill="#515151"/>
<rect x="1992.63" y="186.92" width="10" height="10" fill="#515151"/>
<rect x="1997.8" y="188.6" width="10" height="10" fill="#515151"/>
<rect x="2002.97" y="189.82" width="10" height="10" fill="#515151"/>
<rect x="2008.14" y="191.04" width="10" height="10" fill="#515151"/>
<rect x="2013.31" y="193.61" width="10" height="10" fill="#515151"/>
<rect x="2018.48" y="193.91" width="10" height="10" fill="#515151"/>
<rect x="2023.65" y="196.09" width="10" height="10" fill="#515151"/>
<rect x="2028.82" y="197.22" width="10" height="10" fill="#515151"/>
<rect x="2033.99" y="198.19" width="10" height="10" fill="#515151"/>
<rect x="2039.16" y="199.57" width="10" height="10" fill="#515151"/>
<rect x="2044.33" y="201.56" width="10" height="10" fill="#515151"/>
<rect x="2049.5" y="202.14" width="10" height="10" fill="#515151"/>
<circle cx="1542.67" cy="67.49" r="5.25" fill="#F14040"/>
<circle cx="1547.84" cy="69.53" r="5.25" fill="#F14040"/>
<circle cx="1553.01" cy="70.94" r="5.25" fill="#F14040"/>
<circle cx="1558.18" cy="73.72" r="5.25" fill="#F14040"/>
<circle cx="1563.35" cy="75.95" r="5.25" fill="#F14040"/>
<circle cx="1568.52" cy="78.24" r="5.25" fill="#F14040"/>
<circle cx="1573.69" cy="80.57" r="5.25" fill="#F14040"/>
<circle cx="1578.86" cy="83.11" r="5.25" fill="#F14040"/>
<circle cx="1584.03" cy="86.55" r="5.25" fill="#F14040"/>
<circle cx="1589.2" cy="88.46" r="5.25" fill="#F14040"/>
<circle cx="1594.37" cy="90.35" r="5.25" fill="#F14040"/>
<circle cx="1599.54" cy="92.74" r="5.25" fill="#F14040"/>
<circle cx="1604.71" cy="93.96" r="5.25" fill="#F14040"/>
<circle cx="1609.88" cy="95.72" r="5.25" fill="#F14040"/>
<circle cx="1615.05" cy="97.29" r="5.25" fill="#F14040"/>
<circle cx="1620.22" cy="98.99" r="5.25" fill="#F14040"/>
<circle cx="1625.39" cy="101.91" r="5.25" fill="#F14040"/>
<circle cx="1630.56" cy="103.63" r="5.25" fill="#F14040"/>
<circle cx="1635.73" cy="104.92" r="5.25" fill="#F14040"/>
<circle cx="1640.9" cy="107.5" r="5.25" fill="#F14040"/>
<circle cx="1646.07" cy="109.45" r="5.25" fill="#F14040"/>
<circle cx="1651.24" cy="111.06" r="5.25" fill="#F14040"/>
<circle cx="1656.41" cy="113.66" r="5.25" fill="#F14040"/>
<circle cx="1661.58" cy="114.93" r="5.25" fill="#F14040"/>
<circle cx="1666.75" cy="116.9" r="5.25" fill="#F14040"/>
<circle cx="1671.92" cy="120.04" r="5.25" fill="#F14040"/>
<circle cx="1677.09" cy="121.46" r="5.25" fill="#F14040"/>
<circle cx="1682.26" cy="123.18" r="5.25" fill="#F14040"/>
<circle cx="1687.43" cy="125.01" r="5.25" fill="#F14040"/>
<circle cx="1692.6" cy="127.75" r="5.25" fill="#F14040"/>
<circle cx="1697.77" cy="129.46" r="5.25" fill="#F14040"/>
<circle cx="1702.94" cy="130.11" r="5.25" fill="#F14040"/>
<circle cx="1708.11" cy="131.64" r="5.25" fill="#F14040"/>
<circle cx="1713.28" cy="134.15" r="5.25" fill="#F14040"/>
<circle cx="1718.45" cy="135.4" r="5.25" fill="#F14040"/>
<circle cx="1723.62" cy="136.61" r="5.25" fill="#F14040"/>
<circle cx="1728.79" cy="138.02" r="5.25" fill="#F14040"/>
<circle cx="1733.96" cy="140.48" r="5.25" fill="#F14040"/>
<circle cx="1739.13" cy="141.4" r="5.25" fill="#F14040"/>
<circle cx="1744.3" cy="142.48" r="5.25" fill="#F14040"/>
<circle cx="1749.47" cy="143.99" r="5.25" fill="#F14040"/>
<circle cx="1754.64" cy="145.68" r="5.25" fill="#F14040"/>
<circle cx="1759.81" cy="147.03" r="5.25" fill="#F14040"/>
<circle cx="1764.98" cy="147.89" r="5.25" fill="#F14040"/>
<circle cx="1770.15" cy="148.38" r="5.25" fill="#F14040"/>
<circle cx="1775.32" cy="150.56" r="5.25" fill="#F14040"/>
<circle cx="1780.49" cy="151.79" r="5.25" fill="#F14040"/>
<circle cx="1785.66" cy="152.51" r="5.25" fill="#F14040"/>
<circle cx="1790.83" cy="154.07" r="5.25" fill="#F14040"/>
<circle cx="1796" cy="155.08" r="5.25" fill="#F14040"/>
<circle cx="1801.17" cy="156.37" r="5.25" fill="#F14040"/>
<circle cx="1806.34" cy="156.84" r="5.25" fill="#F14040"/>
<circle cx="1811.51" cy="157.73" r="5.25" fill="#F14040"/>
<circle cx="1816.68" cy="159.21" r="5.25" fill="#F14040"/>
<circle cx="1821.85" cy="160.72" r="5.25" fill="#F14040"/>
<circle cx="1827.02" cy="161.58" r="5.25" fill="#F14040"/>
<circle cx="1832.19" cy="162.37" r="5.25" fill="#F14040"/>
<circle cx="1837.36" cy="163.04" r="5.25" fill="#F14040"/>
<circle cx="1842.53" cy="164.09" r="5.25" fill="#F14040"/>
<circle cx="1847.7" cy="166.2" r="5.25" fill="#F14040"/>
<circle cx="1852.87" cy="167.62" r="5.25" fill="#F14040"/>
<circle cx="1858.04" cy="167.68" r="5.25" fill="#F14040"/>
<circle cx="1863.21" cy="168.67" r="5.25" fill="#F14040"/>
<circle cx="1868.38" cy="170.41" r="5.25" fill="#F14040"/>
<circle cx="1873.55" cy="171.12" r="5.25" fill="#F14040"/>
<circle cx="1878.72" cy="172.12" r="5.25" fill="#F14040"/>
<circle cx="1883.89" cy="173.58" r="5.25" fill="#F14040"/>
<circle cx="1889.06" cy="174.36" r="5.25" fill="#F14040"/>
<circle cx="1894.23" cy="176.42" r="5.25" fill="#F14040"/>
<circle cx="1899.4" cy="176.99" r="5.25" fill="#F14040"/>
<circle cx="1904.57" cy="177.89" r="5.25" fill="#F14040"/>
<circle cx="1909.74" cy="178.99" r="5.25" fill="#F14040"/>
<circle cx="1914.91" cy="178.86" r="5.25" fill="#F14040"/>
<circle cx="1920.08" cy="180.91" r="5.25" fill="#F14040"/>
<circle cx="1925.25" cy="180.97" r="5.25" fill="#F14040"/>
<circle cx="1930.42" cy="182.65" r="5.25" fill="#F14040"/>
<circle cx="1935.59" cy="183.17" r="5.25" fill="#F14040"/>
<circle cx="1940.76" cy="184.06" r="5.25" fill="#F14040"/>
<circle cx="1945.93" cy="185.96" r="5.25" fill="#F14040"/>
<circle cx="1951.1" cy="187.11" r="5.25" fill="#F14040"/>
<circle cx="1956.27" cy="188.68" r="5.25" fill="#F14040"/>
<circle cx="1961.44" cy="190.56" r="5.25" fill="#F14040"/>
<circle cx="1966.61" cy="191.6" r="5.25" fill="#F14040"/>
<circle cx="1971.78" cy="193.94" r="5.25" fill="#F14040"/>
<circle cx="1976.95" cy="195.49" r="5.25" fill="#F14040"/>
<circle cx="1982.12" cy="196.87" r="5.25" fill="#F14040"/>
<circle cx="1987.29" cy="198.43" r="5.25" fill="#F14040"/>
<circle cx="1992.46" cy="200.44" r="5.25" fill="#F14040"/>
<circle cx="1997.63" cy="201.48" r="5.25" fill="#F14040"/>
<circle cx="2002.8" cy="203.58" r="5.25" fill="#F14040"/>
<circle cx="2007.97" cy="206.5" r="5.25" fill="#F14040"/>
<circle cx="2013.14" cy="208.13" r="5.25" fill="#F14040"/>
<circle cx="2018.31" cy="210.29" r="5.25" fill="#F14040"/>
<circle cx="2023.48" cy="211.98" r="5.25" fill="#F14040"/>
<circle cx="2028.65" cy="214.19" r="5.25" fill="#F14040"/>
<circle cx="2033.82" cy="215.87" r="5.25" fill="#F14040"/>
<circle cx="2038.99" cy="217.3" r="5.25" fill="#F14040"/>
<circle cx="2044.16" cy="219.4" r="5.25" fill="#F14040"/>
<circle cx="2049.33" cy="220.3" r="5.25" fill="#F14040"/>
<circle cx="2054.5" cy="221.61" r="5.25" fill="#F14040"/>
<polyline points="1542.67,71.97 1547.84,74.5 1553.01,76.74 1558.18,78.68 1563.35,80.43 1568.52,82.17 1573.69,83.91 1578.86,85.66 1584.03,87.4 1589.2,89.15 1594.37,90.95 1599.54,92.75 1604.71,94.56 1609.88,96.37 1615.05,98.18 1620.22,99.98 1625.39,101.79 1630.56,103.6 1635.73,105.41 1640.9,107.17 1646.07,108.74 1651.24,110.32 1656.41,111.89 1661.58,113.46 1666.75,115.04 1671.92,116.61 1677.09,118.18 1682.26,119.76 1687.43,121.33 1692.6,122.81 1697.77,124.21 1702.94,125.6 1708.11,126.99 1713.28,128.39 1718.45,129.78 1723.62,131.18 1728.79,132.57 1733.96,133.96 1739.13,135.36 1744.3,136.62 1749.47,137.84 1754.64,139.07 1759.81,140.3 1764.98,141.52 1770.15,142.75 1775.32,143.98 1780.49,145.2 1785.66,146.43 1790.83,147.63 1796,148.71 1801.17,149.78 1806.34,150.86 1811.51,151.94 1816.68,153.02 1821.85,154.1 1827.02,155.18 1832.19,156.26 1837.36,157.34 1842.53,158.69 1847.7,160.3 1852.87,161.92 1858.04,163.54 1863.21,165.16 1868.38,166.78 1873.55,168.4 1878.72,170.02 1883.89,171.63 1889.06,173.25 1894.23,174.58 1899.4,175.84 1904.57,177.1 1909.74,178.36 1914.91,179.62 1920.08,180.88 1925.25,182.14 1930.42,183.4 1935.59,184.65 1940.76,185.96 1945.93,187.74 1951.1,189.51 1956.27,191.28 1961.44,193.05 1966.61,194.82 1971.78,196.59 1976.95,198.37 1982.12,200.14 1987.29,201.91 1992.46,203.38 1997.63,204.55 2002.8,205.72 2007.97,206.89 2013.14,208.06 2018.31,209.22 2023.48,210.39 2028.65,211.56 2033.82,212.73 2038.99,213.9 2044.16,215.01 2049.33,216.1 2054.5,217.19" fill="none" stroke="#1A6FDF" stroke-width="8" stroke-linejoin="round" />
<polygon points="1542.67,66.24 1549.17,77.74 1536.17,77.74" fill="#1A6FDF"/>
<polygon points="1547.84,69.68 1554.34,81.18 1541.34,81.18" fill="#1A6FDF"/>
<polygon points="1553.01,71.02 1559.51,82.52 1546.51,82.52" fill="#1A6FDF"/>
<polygon points="1558.18,72.7 1564.68,84.2 1551.68,84.2" fill="#1A6FDF"/>
<polygon points="1563.35,74.89 1569.85,86.39 1556.85,86.39" fill="#1A6FDF"/>
<polygon points="1568.52,77.05 1575.02,88.55 1562.02,88.55" fill="#1A6FDF"/>
<polygon points="1573.69,78.29 1580.19,89.79 1567.19,89.79" fill="#1A6FDF"/>
<polygon points="1578.86,79.98 1585.36,91.48 1572.36,91.48" fill="#1A6FDF"/>
<polygon points="1584.03,81.8 1590.53,93.3 1577.53,93.3" fill="#1A6FDF"/>
<polygon points="1589.2,84.21 1595.7,95.71 1582.7,95.71" fill="#1A6FDF"/>
<polygon points="1594.37,84.93 1600.87,96.43 1587.87,96.43" fill="#1A6FDF"/>
<polygon points="1599.54,86.76 1606.04,98.26 1593.04,98.26" fill="#1A6FDF"/>
<polygon points="1604.71,89.26 1611.21,100.76 1598.21,100.76" fill="#1A6FDF"/>
<polygon points="1609.88,90.85 1616.38,102.35 1603.38,102.35" fill="#1A6FDF"/>
<polygon points="1615.05,93.38 1621.55,104.88 1608.55,104.88" fill="#1A6FDF"/>
<polygon points="1620.22,93.94 1626.72,105.44 1613.72,105.44" fill="#1A6FDF"/>
<polygon points="1625.39,95.97 1631.89,107.47 1618.89,107.47" fill="#1A6FDF"/>
<polygon points="1630.56,98.02 1637.06,109.52 1624.06,109.52" fill="#1A6FDF"/>
<polygon points="1635.73,99.67 1642.23,111.17 1629.23,111.17" fill="#1A6FDF"/>
<polygon points="1640.9,102.18 1647.4,113.68 1634.4,113.68" fill="#1A6FDF"/>
<polygon points="1646.07,103.59 1652.57,115.09 1639.57,115.09" fill="#1A6FDF"/>
<polygon points="1651.24,105.25 1657.74,116.75 1644.74,116.75" fill="#1A6FDF"/>
<polygon points="1656.41,106.36 1662.91,117.86 1649.91,117.86" fill="#1A6FDF"/>
<polygon points="1661.58,108.6 1668.08,120.1 1655.08,120.1" fill="#1A6FDF"/>
<polygon points="1666.75,109.12 1673.25,120.62 1660.25,120.62" fill="#1A6FDF"/>
<polygon points="1671.92,111.26 1678.42,122.76 1665.42,122.76" fill="#1A6FDF"/>
<polygon points="1677.09,112.86 1683.59,124.36 1670.59,124.36" fill="#1A6FDF"/>
<polygon points="1682.26,114.87 1688.76,126.37 1675.76,126.37" fill="#1A6FDF"/>
<polygon points="1687.43,115.69 1693.93,127.19 1680.93,127.19" fill="#1A6FDF"/>
<polygon points="1692.6,117 1699.1,128.5 1686.1,128.5" fill="#1A6FDF"/>
<polygon points="1697.77,118.64 1704.27,130.14 1691.27,130.14" fill="#1A6FDF"/>
<polygon points="1702.94,120.54 1709.44,132.04 1696.44,132.04" fill="#1A6FDF"/>
<polygon points="1708.11,121.22 1714.61,132.72 1701.61,132.72" fill="#1A6FDF"/>
<polygon points="1713.28,123.45 1719.78,134.95 1706.78,134.95" fill="#1A6FDF"/>
<polygon points="1718.45,123.95 1724.95,135.45 1711.95,135.45" fill="#1A6FDF"/>
<polygon points="1723.62,125.67 1730.12,137.17 1717.12,137.17" fill="#1A6FDF"/>
<polygon points="1728.79,127.45 1735.29,138.95 1722.29,138.95" fill="#1A6FDF"/>
<polygon points="1733.96,128.55 1740.46,140.05 1727.46,140.05" fill="#1A6FDF"/>
<polygon points="1739.13,129.79 1745.63,141.29 1732.63,141.29" fill="#1A6FDF"/>
<polygon points="1744.3,131.53 1750.8,143.03 1737.8,143.03" fill="#1A6FDF"/>
<polygon points="1749.47,131.99 1755.97,143.49 1742.97,143.49" fill="#1A6FDF"/>
<polygon points="1754.64,133.77 1761.14,145.27 1748.14,145.27" fill="#1A6FDF"/>
<polygon points="1759.81,134.38 1766.31,145.88 1753.31,145.88" fill="#1A6FDF"/>
<polygon points="1764.98,135.68 1771.48,147.18 1758.48,147.18" fill="#1A6FDF"/>
<polygon points="1770.15,137.87 1776.65,149.37 1763.65,149.37" fill="#1A6FDF"/>
<polygon points="1775.32,138.38 1781.82,149.88 1768.82,149.88" fill="#1A6FDF"/>
<polygon points="1780.49,140.05 1786.99,151.55 1773.99,151.55" fill="#1A6FDF"/>
<polygon points="1785.66,140.7 1792.16,152.2 1779.16,152.2" fill="#1A6FDF"/>
<polygon points="1790.83,142.17 1797.33,153.67 1784.33,153.67" fill="#1A6FDF"/>
<polygon points="1796,143.36 1802.5,154.86 1789.5,154.86" fill="#1A6FDF"/>
<polygon points="1801.17,143.87 1807.67,155.37 1794.67,155.37" fill="#1A6FDF"/>
<polygon points="1806.34,146.04 1812.84,157.54 1799.84,157.54" fill="#1A6FDF"/>
<polygon points="1811.51,146.47 1818.01,157.97 1805.01,157.97" fill="#1A6FDF"/>
<polygon points="1816.68,147.85 1823.18,159.35 1810.18,159.35" fill="#1A6FDF"/>
<polygon points="1821.85,149.31 1828.35,160.81 1815.35,160.81" fill="#1A6FDF"/>
<polygon points="1827.02,149.45 1833.52,160.95 1820.52,160.95" fill="#1A6FDF"/>
<polygon points="1832.19,150.78 1838.69,162.28 1825.69,162.28" fill="#1A6FDF"/>
<polygon points="1837.36,151.42 1843.86,162.92 1830.86,162.92" fill="#1A6FDF"/>
<polygon points="1842.53,153.16 1849.03,164.66 1836.03,164.66" fill="#1A6FDF"/>
<polygon points="1847.7,155.12 1854.2,166.62 1841.2,166.62" fill="#1A6FDF"/>
<polygon points="1852.87,155.89 1859.37,167.39 1846.37,167.39" fill="#1A6FDF"/>
<polygon points="1858.04,158.64 1864.54,170.14 1851.54,170.14" fill="#1A6FDF"/>
<polygon points="1863.21,160.35 1869.71,171.85 1856.71,171.85" fill="#1A6FDF"/>
<polygon points="1868.38,161.07 1874.88,172.57 1861.88,172.57" fill="#1A6FDF"/>
<polygon points="1873.55,163.17 1880.05,174.67 1867.05,174.67" fill="#1A6FDF"/>
<polygon points="1878.72,164.8 1885.22,176.3 1872.22,176.3" fill="#1A6FDF"/>
<polygon points="1883.89,165.74 1890.39,177.24 1877.39,177.24" fill="#1A6FDF"/>
<polygon points="1889.06,168.08 1895.56,179.58 1882.56,179.58" fill="#1A6FDF"/>
<polygon points="1894.23,168.67 1900.73,180.17 1887.73,180.17" fill="#1A6FDF"/>
<polygon points="1899.4,170.25 1905.9,181.75 1892.9,181.75" fill="#1A6FDF"/>
<polygon points="1904.57,171.92 1911.07,183.42 1898.07,183.42" fill="#1A6FDF"/>
<polygon points="1909.74,173.54 1916.24,185.04 1903.24,185.04" fill="#1A6FDF"/>
<polygon points="1914.91,174.55 1921.41,186.05 1908.41,186.05" fill="#1A6FDF"/>
<polygon points="1920.08,174.86 1926.58,186.36 1913.58,186.36" fill="#1A6FDF"/>
<polygon points="1925.25,176.86 1931.75,188.36 1918.75,188.36" fill="#1A6FDF"/>
<polygon points="1930.42,178.44 1936.92,189.94 1923.92,189.94" fill="#1A6FDF"/>
<polygon points="1935.59,179.52 1942.09,191.02 1929.09,191.02" fill="#1A6FDF"/>
<polygon points="1940.76,180.04 1947.26,191.54 1934.26,191.54" fill="#1A6FDF"/>
<polygon points="1945.93,182.77 1952.43,194.27 1939.43,194.27" fill="#1A6FDF"/>
<polygon points="1951.1,183.74 1957.6,195.24 1944.6,195.24" fill="#1A6FDF"/>
<polygon points="1956.27,186.36 1962.77,197.86 1949.77,197.86" fill="#1A6FDF"/>
<polygon points="1961.44,187.05 1967.94,198.55 1954.94,198.55" fill="#1A6FDF"/>
<polygon points="1966.61,189.38 1973.11,200.88 1960.11,200.88" fill="#1A6FDF"/>
<polygon points="1971.78,191.79 1978.28,203.29 1965.28,203.29" fill="#1A6FDF"/>
<polygon points="1976.95,192.4 1983.45,203.9 1970.45,203.9" fill="#1A6FDF"/>
<polygon points="1982.12,194.92 1988.62,206.42 1975.62,206.42" fill="#1A6FDF"/>
<polygon points="1987.29,196.21 1993.79,207.71 1980.79,207.71" fill="#1A6FDF"/>
<polygon points="1992.46,197.95 1998.96,209.45 1985.96,209.45" fill="#1A6FDF"/>
<polygon points="1997.63,199.68 2004.13,211.18 1991.13,211.18" fill="#1A6FDF"/>
<polygon points="2002.8,200.83 2009.3,212.33 1996.3,212.33" fill="#1A6FDF"/>
<polygon points="2007.97,201.95 2014.47,213.45 2001.47,213.45" fill="#1A6FDF"/>
<polygon points="2013.14,203.1 2019.64,214.6 2006.64,214.6" fill="#1A6FDF"/>
<polygon points="2018.31,204.41 2024.81,215.91 2011.81,215.91" fill="#1A6FDF"/>
<polygon points="2023.48,205.59 2029.98,217.09 2016.98,217.09" fill="#1A6FDF"/>
<polygon points="2028.65,205.58 2035.15,217.08 2022.15,217.08" fill="#1A6FDF"/>
<polygon points="2033.82,207.87 2040.32,219.37 2027.32,219.37" fill="#1A6FDF"/>
<polygon points="2038.99,208.49 2045.49,219.99 2032.49,219.99" fill="#1A6FDF"/>
<polygon points="2044.16,210.1 2050.66,221.6 2037.66,221.6" fill="#1A6FDF"/>
<polygon points="2049.33,211.07 2055.83,222.57 2042.83,222.57" fill="#1A6FDF"/>
<polygon points="2054.5,211.44 2061,222.94 2048,222.94" fill="#1A6FDF"/>
<polyline points="1542.67,78.89 1547.84,80.43 1553.01,82.45 1558.18,84.53 1563.35,86.66 1568.52,88.79 1573.69,90.93 1578.86,93.06 1584.03,95.19 1589.2,97.32 1594.37,99.37 1599.54,101.4 1604.71,103.44 1609.88,105.47 1615.05,107.51 1620.22,109.54 1625.39,111.57 1630.56,113.61 1635.73,115.64 1640.9,117.68 1646.07,119.75 1651.24,121.82 1656.41,123.88 1661.58,125.95 1666.75,128.02 1671.92,130.09 1677.09,132.16 1682.26,134.23 1687.43,136.29 1692.6,138.11 1697.77,139.69 1702.94,141.26 1708.11,142.83 1713.28,144.41 1718.45,145.98 1723.62,147.56 1728.79,149.13 1733.96,150.7 1739.13,152.28 1744.3,153.61 1749.47,154.88 1754.64,156.15 1759.81,157.42 1764.98,158.7 1770.15,159.97 1775.32,161.24 1780.49,162.51 1785.66,163.78 1790.83,165.06 1796,166.37 1801.17,167.67 1806.34,168.97 1811.51,170.28 1816.68,171.58 1821.85,172.89 1827.02,174.19 1832.19,175.49 1837.36,176.8 1842.53,178.06 1847.7,179.27 1852.87,180.48 1858.04,181.7 1863.21,182.91 1868.38,184.13 1873.55,185.34 1878.72,186.55 1883.89,187.77 1889.06,188.98 1894.23,190.73 1899.4,192.62 1904.57,194.51 1909.74,196.4 1914.91,198.29 1920.08,200.18 1925.25,202.06 1930.42,203.95 1935.59,205.84 1940.76,207.71 1945.93,209.44 1951.1,211.16 1956.27,212.89 1961.44,214.62 1966.61,216.34 1971.78,218.07 1976.95,219.8 1982.12,221.52 1987.29,223.25 1992.46,224.88 1997.63,226.4 2002.8,227.93 2007.97,229.46 2013.14,230.99 2018.31,232.52 2023.48,234.05 2028.65,235.58 2033.82,237.1 2038.99,238.63 2044.16,239.94 2049.33,241.18 2054.5,242.43" fill="none" stroke="#37AD6B" stroke-width="8" stroke-linejoin="round" />
<polygon points="1542.67,83.72 1549.17,72.22 1536.17,72.22" fill="#37AD6B"/>
<polygon points="1547.84,85.87 1554.34,74.37 1541.34,74.37" fill="#37AD6B"/>
<polygon points="1553.01,88.49 1559.51,76.99 1546.51,76.99" fill="#37AD6B"/>
<polygon points="1558.18,89.28 1564.68,77.78 1551.68,77.78" fill="#37AD6B"/>
<polygon points="1563.35,92.65 1569.85,81.15 1556.85,81.15" fill="#37AD6B"/>
<polygon points="1568.52,94.34 1575.02,82.84 1562.02,82.84" fill="#37AD6B"/>
<polygon points="1573.69,96.28 1580.19,84.78 1567.19,84.78" fill="#37AD6B"/>
<polygon points="1578.86,97.95 1585.36,86.45 1572.36,86.45" fill="#37AD6B"/>
<polygon points="1584.03,100.17 1590.53,88.67 1577.53,88.67" fill="#37AD6B"/>
<polygon points="1589.2,102.58 1595.7,91.08 1582.7,91.08" fill="#37AD6B"/>
<polygon points="1594.37,104.9 1600.87,93.4 1587.87,93.4" fill="#37AD6B"/>
<polygon points="1599.54,106.37 1606.04,94.87 1593.04,94.87" fill="#37AD6B"/>
<polygon points="1604.71,108.36 1611.21,96.86 1598.21,96.86" fill="#37AD6B"/>
<polygon points="1609.88,110.39 1616.38,98.89 1603.38,98.89" fill="#37AD6B"/>
<polygon points="1615.05,112.62 1621.55,101.12 1608.55,101.12" fill="#37AD6B"/>
<polygon points="1620.22,115.47 1626.72,103.97 1613.72,103.97" fill="#37AD6B"/>
<polygon points="1625.39,117.24 1631.89,105.74 1618.89,105.74" fill="#37AD6B"/>
<polygon points="1630.56,119.02 1637.06,107.52 1624.06,107.52" fill="#37AD6B"/>
<polygon points="1635.73,121.03 1642.23,109.53 1629.23,109.53" fill="#37AD6B"/>
<polygon points="1640.9,122.65 1647.4,111.15 1634.4,111.15" fill="#37AD6B"/>
<polygon points="1646.07,125.49 1652.57,113.99 1639.57,113.99" fill="#37AD6B"/>
<polygon points="1651.24,127 1657.74,115.5 1644.74,115.5" fill="#37AD6B"/>
<polygon points="1656.41,129.45 1662.91,117.95 1649.91,117.95" fill="#37AD6B"/>
<polygon points="1661.58,130.99 1668.08,119.49 1655.08,119.49" fill="#37AD6B"/>
<polygon points="1666.75,133.82 1673.25,122.32 1660.25,122.32" fill="#37AD6B"/>
<polygon points="1671.92,135.52 1678.42,124.02 1665.42,124.02" fill="#37AD6B"/>
<polygon points="1677.09,138.08 1683.59,126.58 1670.59,126.58" fill="#37AD6B"/>
<polygon points="1682.26,140 1688.76,128.5 1675.76,128.5" fill="#37AD6B"/>
<polygon points="1687.43,141.12 1693.93,129.62 1680.93,129.62" fill="#37AD6B"/>
<polygon points="1692.6,143.75 1699.1,132.25 1686.1,132.25" fill="#37AD6B"/>
<polygon points="1697.77,144.57 1704.27,133.07 1691.27,133.07" fill="#37AD6B"/>
<polygon points="1702.94,146.63 1709.44,135.13 1696.44,135.13" fill="#37AD6B"/>
<polygon points="1708.11,148.84 1714.61,137.34 1701.61,137.34" fill="#37AD6B"/>
<polygon points="1713.28,149.43 1719.78,137.93 1706.78,137.93" fill="#37AD6B"/>
<polygon points="1718.45,151.97 1724.95,140.47 1711.95,140.47" fill="#37AD6B"/>
<polygon points="1723.62,152.53 1730.12,141.03 1717.12,141.03" fill="#37AD6B"/>
<polygon points="1728.79,155.17 1735.29,143.67 1722.29,143.67" fill="#37AD6B"/>
<polygon points="1733.96,155.87 1740.46,144.37 1727.46,144.37" fill="#37AD6B"/>
<polygon points="1739.13,158.11 1745.63,146.61 1732.63,146.61" fill="#37AD6B"/>
<polygon points="1744.3,159.21 1750.8,147.71 1737.8,147.71" fill="#37AD6B"/>
<polygon points="1749.47,159.69 1755.97,148.19 1742.97,148.19" fill="#37AD6B"/>
<polygon points="1754.64,161.57 1761.14,150.07 1748.14,150.07" fill="#37AD6B"/>
<polygon points="1759.81,162.62 1766.31,151.12 1753.31,151.12" fill="#37AD6B"/>
<polygon points="1764.98,163.78 1771.48,152.28 1758.48,152.28" fill="#37AD6B"/>
<polygon points="1770.15,165.88 1776.65,154.38 1763.65,154.38" fill="#37AD6B"/>
<polygon points="1775.32,166.2 1781.82,154.7 1768.82,154.7" fill="#37AD6B"/>
<polygon points="1780.49,167.37 1786.99,155.87 1773.99,155.87" fill="#37AD6B"/>
<polygon points="1785.66,169.64 1792.16,158.14 1779.16,158.14" fill="#37AD6B"/>
<polygon points="1790.83,170.4 1797.33,158.9 1784.33,158.9" fill="#37AD6B"/>
<polygon points="1796,172.05 1802.5,160.55 1789.5,160.55" fill="#37AD6B"/>
<polygon points="1801.17,172.76 1807.67,161.26 1794.67,161.26" fill="#37AD6B"/>
<polygon points="1806.34,174.99 1812.84,163.49 1799.84,163.49" fill="#37AD6B"/>
<polygon points="1811.51,175.66 1818.01,164.16 1805.01,164.16" fill="#37AD6B"/>
<polygon points="1816.68,176.6 1823.18,165.1 1810.18,165.1" fill="#37AD6B"/>
<polygon points="1821.85,177.98 1828.35,166.48 1815.35,166.48" fill="#37AD6B"/>
<polygon points="1827.02,180.1 1833.52,168.6 1820.52,168.6" fill="#37AD6B"/>
<polygon points="1832.19,180.46 1838.69,168.96 1825.69,168.96" fill="#37AD6B"/>
<polygon points="1837.36,182.54 1843.86,171.04 1830.86,171.04" fill="#37AD6B"/>
<polygon points="1842.53,183.05 1849.03,171.55 1836.03,171.55" fill="#37AD6B"/>
<polygon points="1847.7,184.67 1854.2,173.17 1841.2,173.17" fill="#37AD6B"/>
<polygon points="1852.87,186.33 1859.37,174.83 1846.37,174.83" fill="#37AD6B"/>
<polygon points="1858.04,186.79 1864.54,175.29 1851.54,175.29" fill="#37AD6B"/>
<polygon points="1863.21,187.91 1869.71,176.41 1856.71,176.41" fill="#37AD6B"/>
<polygon points="1868.38,189.26 1874.88,177.76 1861.88,177.76" fill="#37AD6B"/>
<polygon points="1873.55,190.13 1880.05,178.63 1867.05,178.63" fill="#37AD6B"/>
<polygon points="1878.72,192.27 1885.22,180.77 1872.22,180.77" fill="#37AD6B"/>
<polygon points="1883.89,193.51 1890.39,182.01 1877.39,182.01" fill="#37AD6B"/>
<polygon points="1889.06,194.84 1895.56,183.34 1882.56,183.34" fill="#37AD6B"/>
<polygon points="1894.23,196.08 1900.73,184.58 1887.73,184.58" fill="#37AD6B"/>
<polygon points="1899.4,198.15 1905.9,186.65 1892.9,186.65" fill="#37AD6B"/>
<polygon points="1904.57,200.1 1911.07,188.6 1898.07,188.6" fill="#37AD6B"/>
<polygon points="1909.74,201.85 1916.24,190.35 1903.24,190.35" fill="#37AD6B"/>
<polygon points="1914.91,203.98 1921.41,192.48 1908.41,192.48" fill="#37AD6B"/>
<polygon points="1920.08,206.22 1926.58,194.72 1913.58,194.72" fill="#37AD6B"/>
<polygon points="1925.25,207.5 1931.75,196 1918.75,196" fill="#37AD6B"/>
<polygon points="1930.42,209.65 1936.92,198.15 1923.92,198.15" fill="#37AD6B"/>
<polygon points="1935.59,211.31 1942.09,199.81 1929.09,199.81" fill="#37AD6B"/>
<polygon points="1940.76,212.55 1947.26,201.05 1934.26,201.05" fill="#37AD6B"/>
<polygon points="1945.93,215.26 1952.43,203.76 1939.43,203.76" fill="#37AD6B"/>
<polygon points="1951.1,216.38 1957.6,204.88 1944.6,204.88" fill="#37AD6B"/>
<polygon points="1956.27,218.1 1962.77,206.6 1949.77,206.6" fill="#37AD6B"/>
<polygon points="1961.44,220.3 1967.94,208.8 1954.94,208.8" fill="#37AD6B"/>
<polygon points="1966.61,221.78 1973.11,210.28 1960.11,210.28" fill="#37AD6B"/>
<polygon points="1971.78,222.86 1978.28,211.36 1965.28,211.36" fill="#37AD6B"/>
<polygon points="1976.95,225.4 1983.45,213.9 1970.45,213.9" fill="#37AD6B"/>
<polygon points="1982.12,226.64 1988.62,215.14 1975.62,215.14" fill="#37AD6B"/>
<polygon points="1987.29,228.2 1993.79,216.7 1980.79,216.7" fill="#37AD6B"/>
<polygon points="1992.46,230.46 1998.96,218.96 1985.96,218.96" fill="#37AD6B"/>
<polygon points="1997.63,231.16 2004.13,219.66 1991.13,219.66" fill="#37AD6B"/>
<polygon points="2002.8,233.17 2009.3,221.67 1996.3,221.67" fill="#37AD6B"/>
<polygon points="2007.97,234.86 2014.47,223.36 2001.47,223.36" fill="#37AD6B"/>
<polygon points="2013.14,236.11 2019.64,224.61 2006.64,224.61" fill="#37AD6B"/>
<polygon points="2018.31,238.02 2024.81,226.52 2011.81,226.52" fill="#37AD6B"/>
<polygon points="2023.48,239.17 2029.98,227.67 2016.98,227.67" fill="#37AD6B"/>
<polygon points="2028.65,241.27 2035.15,229.77 2022.15,229.77" fill="#37AD6B"/>
<polygon points="2033.82,241.95 2040.32,230.45 2027.32,230.45" fill="#37AD6B"/>
<polygon points="2038.99,243.98 2045.49,232.48 2032.49,232.48" fill="#37AD6B"/>
<polygon points="2044.16,245.67 2050.66,234.17 2037.66,234.17" fill="#37AD6B"/>
<polygon points="2049.33,246.66 2055.83,235.16 2042.83,235.16" fill="#37AD6B"/>
<polygon points="2054.5,247.31 2061,235.81 2048,235.81" fill="#37AD6B"/>
<line x1="1536.3" y1="39.3" x2="2055.9" y2="39.3" stroke="#000" stroke-width="3" stroke-linecap="butt"/>
<line x1="1536.3" y1="452.3" x2="2055.9" y2="452.3" stroke="#000" stroke-width="3.6" stroke-linecap="butt"/>
<line x1="2054.4" y1="39.3" x2="2054.4" y2="452.3" stroke="#000" stroke-width="3" stroke-linecap="butt"/>
<line x1="1537.8" y1="39.3" x2="1537.8" y2="453.8" stroke="#000" stroke-width="2.3" stroke-linecap="butt"/>
<rect x="1874.5" y="45.7" width="172.1" height="110.3" fill="#fff" stroke="#222" stroke-width="1.6"/>
<rect x="1894" y="56.5" width="10" height="10" fill="#515151"/>
<text x="1926.1" y="67.2" font-size="21.5" text-anchor="start" fill="#111" style="font-family:'Liberation Serif',serif;font-weight:bold" >PP</text>
<circle cx="1899" cy="88.7" r="5.25" fill="#F14040"/>
<text x="1926.1" y="94.3" font-size="21.5" text-anchor="start" fill="#111" style="font-family:'Liberation Serif',serif;font-weight:bold" >DMC-7.5%</text>
<polygon points="1899,108.4 1905.5,118.9 1892.5,118.9" fill="#1A6FDF"/>
<text x="1926.1" y="120.4" font-size="21.5" text-anchor="start" fill="#111" style="font-family:'Liberation Serif',serif;font-weight:bold" >DMC-12.5%</text>
<polygon points="1899,149.3 1905.5,138.8 1892.5,138.8" fill="#37AD6B"/>
<text x="1926.1" y="146.4" font-size="21.5" text-anchor="start" fill="#111" style="font-family:'Liberation Serif',serif;font-weight:bold" >DMC-15%</text>
</svg>
</body></html>
